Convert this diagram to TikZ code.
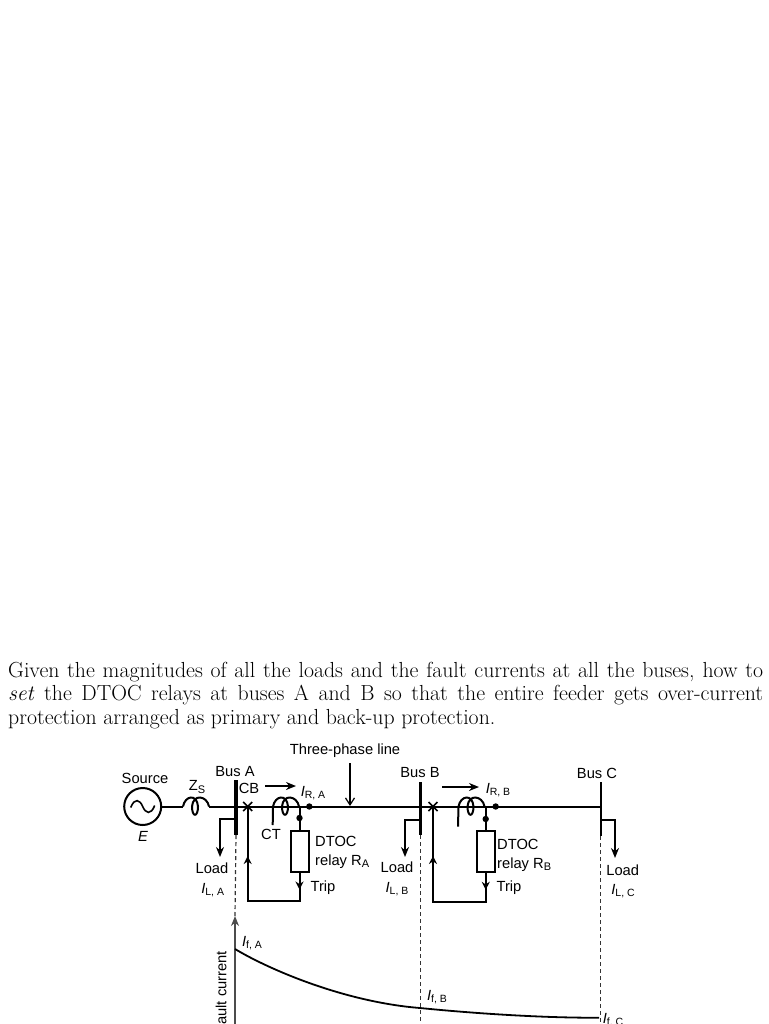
\documentclass[tikz,border=0pt]{standalone}
\usepackage{fontspec}
\usepackage{tikz}
\usetikzlibrary{calc,positioning}
\usetikzlibrary{arrows.meta}
\newfontfamily\diagfont{Liberation Sans}
\newcommand{\curr}[2]{{\itshape #1}\raisebox{-0.35ex}{\fontsize{10.5}{10.5}\selectfont #2}}
\tikzset{
    lbl/.style={font=\diagfont\fontsize{14.7}{17}\selectfont,inner sep=0pt},
    wire/.style={line width=2pt},
    bus/.style={line width=3.5pt},
    flow/.style={line width=2pt,-{Stealth[length=10pt,width=8pt]}},
    tap/.style={dashed,dash pattern=on 4pt off 3pt,line width=1.2pt,black!80},
    relaybox/.style={draw,line width=2pt,minimum width=18pt,minimum height=41pt,inner sep=0pt}
}
\begin{document}
\begin{tikzpicture}[x=1pt,y=-1pt]
\useasboundingbox (0,0) rectangle (768,1024);
\clip (0,0) rectangle (768,1024);

\node[anchor=north west,inner sep=0pt,text width=755pt,align=justify,
      font=\fontsize{21.8}{23.7}\selectfont] (txtPara) at (8,661.5)
    {Given the magnitudes of all the loads and the fault currents at all the buses, how to\linebreak
    \textit{set} the DTOC relays at buses A and B so that the entire feeder gets over-current\linebreak
    protection arranged as primary and back-up protection.};

\coordinate (cBusATop) at (236,780);
\coordinate (cBusABot) at (236,835);
\coordinate (cBusBTop) at (420.7,782);
\coordinate (cBusBBot) at (420.7,835);
\coordinate (cBusCTop) at (600.7,782);
\coordinate (cBusCBot) at (600.7,836);
\coordinate (cLineA) at (236,806.5);
\coordinate (cLineC) at (600.7,806.5);
\coordinate (cCoilSL) at (183,806.5);
\coordinate (cCoilSR) at (209,806.5);
\coordinate (cCrossA) at (247.7,806.5);
\coordinate (cCrossB) at (433,806.5);
\coordinate (cDotA) at (309.3,806.5);
\coordinate (cDotB) at (495.7,806.5);
\coordinate (cTapA) at (299.5,818);
\coordinate (cTapB) at (485.7,819);
\coordinate (cLoopA) at (247.7,901);
\coordinate (cLoopB) at (433,901.5);
\coordinate (cAxisTop) at (235,916);
\coordinate (cAxisBot) at (235,1030);

\node[draw,circle,line width=2pt,minimum size=37pt,inner sep=0pt] (srcE) at (142.7,806.5) {};
\draw[line width=1.6pt] ($(srcE.center)+(-12,1)$) .. controls ($(srcE.center)+(-8,-9)$) and ($(srcE.center)+(-3,-7)$) .. (srcE.center)
    .. controls ($(srcE.center)+(3,7)$) and ($(srcE.center)+(8,9)$) .. ($(srcE.center)+(12,-1)$);

\node[relaybox] (relayA) at (299.5,851) {};
\node[relaybox] (relayB) at (485.7,851.3) {};

% line and source
\draw[wire] (srcE) -- (cCoilSL);
\draw[wire] (cCoilSR) -- (cLineA);
\draw[wire] (cLineA) -- (cLineC);

% coils
\foreach \x/\y in {183/806.5,273/806.5,458.5/806.5}
{
    \draw[wire,shift={(\x,\y)}] (0,0) .. controls (2,-11) and (14,-13) .. (15,0)
        .. controls (15,11) and (9,11) .. (9,0) .. controls (10,-13) and (24,-11) .. (26,0);
};
\draw[wire] (273,806.5) -- (272.7,825);
\draw[wire] (458.5,806.5) -- (458,826.7);
\draw[wire] (cTapA) -- (299.5,806.5);
\draw[wire] (cTapB) -- (485.7,806.5);
\draw[wire] (cTapA) -- (relayA);
\draw[wire] (cTapB) -- (relayB);

% buses
\draw[bus] (cBusATop) -- (cBusABot);
\draw[bus] (cBusBTop) -- (cBusBBot);
\draw[line width=2.4pt] (cBusCTop) -- (cBusCBot);
\draw[tap] (cBusABot) -- (cAxisTop);
\draw[tap] (cBusBBot) -- (420.7,1030);
\draw[tap] (cBusCBot) -- (600.7,1030);

% loads
\draw[flow] (236,819) -- (220,819) -- (220,857);
\draw[flow] (420.7,820) -- (405,820) -- (405,857);
\draw[flow] (600.7,819.5) -- (615,819.5) -- (615,858);

% trip loops
\draw[wire] (relayA.south) -- (relayA.south |- cLoopA) -- (cLoopA) -- (cCrossA);
\draw[wire] (relayB.south) -- (relayB.south |- cLoopB) -- (cLoopB) -- (cCrossB);
\foreach \s in {247.7,433}
{
    \draw[-{Stealth[length=8pt,width=8pt]},line width=1.4pt] (\s,866) -- (\s,856);
};
\draw[-{Stealth[length=8pt,width=8pt]},line width=1.4pt] (relayA.south) ++(0,6) -- ++(0,11);
\draw[-{Stealth[length=8pt,width=8pt]},line width=1.4pt] (relayB.south) ++(0,6) -- ++(0,11);

% crosses and dots
\foreach \v in {cCrossA,cCrossB}
{
    \draw[line width=1.6pt] ($(\v)+(-4.5,-4.5)$) -- ($(\v)+(4.5,4.5)$);
    \draw[line width=1.6pt] ($(\v)+(-4.5,4.5)$) -- ($(\v)+(4.5,-4.5)$);
};
\foreach \v in {cDotA,cDotB,cTapA,cTapB}
{
    \fill (\v) circle (3.2pt);
};

% current arrows
\draw[flow] (265,786) -- (296,786);
\draw[flow] (442,787) -- (479,787);
\draw[-{Straight Barb[length=7pt,width=9pt]},line width=1.2pt] (350,763) -- (350,806);

% fault current
\draw[line width=1.4pt,black!70,-{Stealth[length=10pt,width=8pt]}] (cAxisBot) -- (cAxisTop);
\draw[line width=1.8pt] (235,949) .. controls (270,970) and (345,1002) .. (420,1008)
    .. controls (470,1013) and (540,1018) .. (599,1017.7);

\foreach \v/\x/\y/\t in
{lblSource/145/778/Source,
    lblZs/197/787/{Z\raisebox{-0.35ex}{\fontsize{11}{11}\selectfont S}},
    lblE/143/836/\textit{E},
    lblBusA/235/772/Bus A,
    lblBusB/420/772.5/Bus B,
    lblBusC/597/773/Bus C,
    lblCB/249/788/CB,
    lblCT/271/834/CT,
    lblIRA/313/793/\curr{I}{R, A},
    lblIRB/498/790/\curr{I}{R, B},
    lblLine/345/751/Three-phase line,
    lblLoadA/212/868/Load,
    lblLoadB/397/867/Load,
    lblLoadC/622.7/870/Load,
    lblILA/212.7/890/\curr{I}{L, A},
    lblILB/397/889/\curr{I}{L, B},
    lblILC/623/891/\curr{I}{L, C},
    lblTripA/323/888/Trip,
    lblTripB/509/888/Trip,
    lblIfA/252/943/\curr{I}{f, A},
    lblIfB/437/997/\curr{I}{f, B},
    lblIfC/613/1020/\curr{I}{f, C}
}
{
    \node[lbl] (\v) at (\x,\y) {\t};
};

\node[lbl,anchor=base west] (lblDtocA) at (315,846) {DTOC};
\node[lbl,anchor=base west] (lblRelayA) at (315,865) {relay R\raisebox{-0.35ex}{\fontsize{11}{11}\selectfont A}};
\node[lbl,anchor=base west] (lblDtocB) at (497,849) {DTOC};
\node[lbl,anchor=base west] (lblRelayB) at (497,868) {relay R\raisebox{-0.35ex}{\fontsize{11}{11}\selectfont B}};
\node[lbl,rotate=90,anchor=east] (lblFault) at (221,951) {Fault current};

\end{tikzpicture}
\end{document}
